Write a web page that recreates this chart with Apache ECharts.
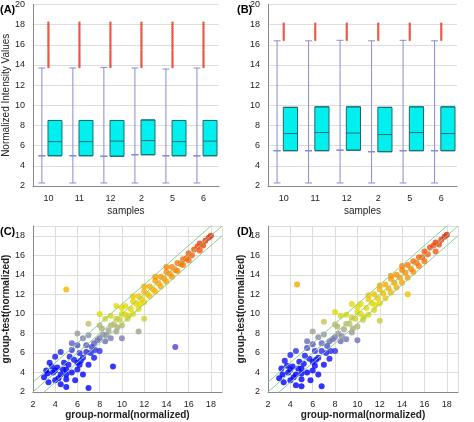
<!DOCTYPE html>
<html><head><meta charset="utf-8">
<script src="https://cdn.jsdelivr.net/npm/echarts@6/dist/echarts.min.js"></script>
<style>html,body{margin:0;padding:0;background:#fff}#c{width:474px;height:422px}</style>
</head><body><div id="c"></div>
<script>
var samples = ['10', '11', '12', '2', '5', '6'];
// [low, q1, median, q3, high]
var boxA = [[2.3, 5.0, 6.4, 8.5, 13.7], [2.3, 5.0, 6.4, 8.5, 13.7], [2.3, 4.95, 6.45, 8.5, 13.75],
	[2.3, 5.1, 6.5, 8.55, 13.7], [2.3, 5.0, 6.4, 8.5, 13.6], [2.3, 5.0, 6.45, 8.5, 13.7]];
var boxB = [[2.3, 5.5, 7.2, 9.8, 16.4], [2.3, 5.5, 7.3, 9.85, 16.4], [2.3, 5.55, 7.25, 9.85, 16.45],
	[2.3, 5.4, 7.1, 9.8, 16.4], [2.3, 5.5, 7.3, 9.85, 16.45], [2.3, 5.5, 7.2, 9.85, 16.4]];
var outA = [13.8, 14.0, 14.2, 14.4, 14.6, 14.8, 15.0, 15.2, 15.4, 15.6, 15.8, 16.0, 16.2, 16.4, 16.6,
	16.8, 17.0, 17.2, 17.4, 17.6, 17.8, 18.0, 18.2];
var outB = [16.5, 16.7, 16.9, 17.1, 17.3, 17.5, 17.7, 17.9, 18.1];
var yTicks = [2, 4, 6, 8, 10, 12, 14, 16, 18, 20];

var scatC = [[3,3.5],[3.2,4.2],[3.4,3],[3.5,5],[3.8,4],[4,3.2],[4,5.6],[4.2,4.5],[4.5,2.8],[4.5,3.8],
	[4.5,6.1],[4.8,5],[5,3.3],[5,4.3],[5,2.5],[5.3,5.6],[5.5,4],[5.5,6.3],[5.8,3.2],[6,5],[6,4.3],[6.2,6],
	[6.5,5.5],[6.5,3.8],[7,2.4],[6.8,6.8],[7,4.8],[7.2,6],[7.5,7],[7.5,5.5],[8,7.5],[8,6.2],[8.2,8.5],
	[8.5,7.2],[9,8.8],[9,7.5],[9.2,4.6],[9.5,9.5],[9.5,8.2],[10,10],[10,8.8],[10.3,10.8],[10.5,9.5],
	[11,11.3],[11,10],[11.5,11.8],[11.5,10.5],[11.5,8.2],[12,12.3],[12,11.2],[12.5,12.8],[12.5,11.8],
	[13,13.4],[13,12.3],[13.5,13.8],[13.5,12.8],[14,14.3],[14,13.3],[14.5,14.8],[14.5,13.8],[15,15.2],
	[15,14.4],[15.5,15.6],[15.5,15],[16,16.2],[16,15.5],[16.5,16.6],[17,17.2],[17,16.5],[17.5,17.5],
	[18,18],[5,12.5],[14.8,6.6],[8,10],[7,9],[6,8],[10,7.5],[12,9.5],[5.5,7],[6.5,7.5],[8.5,9.5],[9.5,10.8],
	[3.3,3.9],[3.7,4.6],[4.3,3.4],[4.7,4.3],[5.2,4.8],[5.7,5.3],[6.3,5.2],[6.8,6.1],[7.3,6.6],[7.8,7.3],
	[8.3,7.9],[8.8,8.3],[9.3,8.9],[9.8,9.4],[10.3,9.9],[10.8,10.5],[11.3,11],[11.8,11.5],[12.3,12],
	[12.8,12.5],[13.3,13.1],[13.8,13.6],[14.3,14.1],[14.8,14.5],[15.3,15.1],[15.8,15.7],[16.3,16],
	[16.8,16.9],[17.3,17],[17.8,17.8],[6,6.8],[7,7.8],[8,8.8],[9,9.8],[10,10.6],[11,11.8],[12,12.8],
	[13,13.8],[14,14.8],[5,3.8],[4,4.2],[6.2,4.8],[7.6,6.3],[8.6,7.8],[9.6,8.6],[10.6,9.8],[11.6,11]];
var scatD = [[3,3.4],[3.2,4.4],[3.4,3],[3.5,5.2],[3.8,4],[4,3.2],[4,5.8],[4.2,4.6],[4.5,2.7],[4.5,3.8],
	[4.5,6.2],[4.8,5.1],[5,3.3],[5,4.4],[5,2.6],[5.3,5.7],[5.5,4],[5.5,6.5],[5.8,3.2],[6,5.1],[6,4.2],
	[6.2,6.2],[6.5,5.5],[6.5,3.8],[6.8,2.6],[6.8,7],[7,4.8],[7.2,6],[7.5,7.2],[7.5,5.4],[8,7.6],[8,6.2],
	[8.2,8.7],[8.5,7.2],[9,9],[9,7.4],[9.5,9.6],[9.5,8.1],[10,10.2],[10,8.7],[10.3,11],[10.5,9.4],
	[11,11.5],[11,9.9],[11.5,12],[11.5,10.4],[12,12.5],[12,11.1],[12.5,13],[12.5,11.6],[13,13.6],
	[13,12.2],[13.5,14],[13.5,12.7],[14,14.5],[14,13.2],[14.5,15],[14.5,13.7],[15,15.4],[15,14.3],
	[15.5,15.8],[15.5,14.9],[16,16.4],[16,15.4],[16.5,16.8],[17,17.3],[17,16.4],[17.5,17.6],[18,18.1],
	[4.6,13],[14.5,12],[8,10.2],[7,9.2],[6,8.2],[10,7.3],[12,9.3],[5.5,7.2],[6.5,7.6],[8.5,9.8],[9.5,11],
	[3.3,3.8],[3.7,4.7],[4.3,3.5],[4.7,4.4],[5.2,4.9],[5.7,5.4],[6.3,5.3],[6.8,6.2],[7.3,6.7],[7.8,7.4],
	[8.3,8],[8.8,8.4],[9.3,9],[9.8,9.5],[10.3,10],[10.8,10.6],[11.3,11.1],[11.8,11.6],[12.3,12.1],
	[12.8,12.6],[13.3,13.2],[13.8,13.7],[14.3,14.2],[14.8,14.6],[15.3,15.2],[15.8,15.8],[16.3,16.1],
	[16.8,17],[17.3,17.1],[17.8,17.9],[6,6.9],[7,7.9],[8,8.9],[9,9.9],[10,10.7],[11,11.9],[12,12.9],
	[13,13.9],[14,14.9],[5,3.9],[4,4.3],[6.2,4.7],[7.6,6.2],[8.6,7.7],[9.6,8.5],[10.6,9.7],[11.6,10.9]];
var diagX = [2, 19];
// colour ramp for y = 2, 3, ... 18
var ramp = ['#0000ff', '#0000ff', '#0000ff', '#0808ff', '#2020f0', '#6060c0', '#9898a0', '#c0c060',
	'#dcdc00', '#e8d800', '#f2c000', '#f8a800', '#ff9000', '#ff7800', '#f86010', '#f04810', '#e03010'];

var myChart = echarts.init(document.getElementById('c'));
var grids = [
	{left: 30, top: 4, width: 189, height: 182},
	{left: 268, top: 4, width: 189, height: 182},
	{left: 30, top: 226, width: 192, height: 166},
	{left: 268, top: 226, width: 190, height: 166}
];
var lab = {color: '#222', fontSize: 9, fontFamily: 'Arial'};
var split = {show: true, lineStyle: {color: '#ddd'}};
var frame = {show: true, lineStyle: {color: '#888'}};

function boxSeries(idx, box, out) {
	return [
		{type: 'boxplot', xAxisIndex: idx, yAxisIndex: idx, boxWidth: ['22%', '22%'],
			itemStyle: {color: 'transparent', borderColor: '#8a8ad0', borderWidth: 1},
			data: box.map(function (b) { return [b[0], b[1], b[1], b[1], b[4]]; })},
		{type: 'boxplot', xAxisIndex: idx, yAxisIndex: idx, boxWidth: ['45%', '45%'], z: 3,
			itemStyle: {color: '#00f0f0', borderColor: '#1f6b6b', borderWidth: 1},
			data: box.map(function (b) { return [b[1], b[1], b[2], b[3], b[3]]; })},
		{type: 'scatter', xAxisIndex: idx, yAxisIndex: idx, symbolSize: 2.5, z: 4,
			itemStyle: {color: '#e8321c'},
			data: [].concat.apply([], samples.map(function (s) { return out.map(function (v) { return [s, v]; }); }))}
	];
}
function catAxis(idx) {
	return {type: 'category', gridIndex: idx, data: samples, name: 'samples', nameLocation: 'middle', nameGap: 20,
		nameTextStyle: {fontSize: 10, color: '#222'}, axisLabel: lab, axisTick: {show: false},
		axisLine: frame, splitLine: {show: false}};
}
function valAxisY(idx, name) {
	return {type: 'value', gridIndex: idx, min: yTicks[0], max: yTicks[yTicks.length - 1], interval: 2,
		name: name, nameLocation: 'middle', nameGap: 18, nameTextStyle: {fontSize: 10, color: '#222'},
		axisLabel: lab, axisTick: {show: false}, axisLine: frame, splitLine: split};
}
function scatAxis(idx, name, isY) {
	return {type: 'value', gridIndex: idx, min: 2, max: 19, interval: 2,
		name: name, nameLocation: 'middle', nameGap: isY ? 16 : 17,
		nameTextStyle: {fontSize: 10, fontWeight: 'bold', color: '#222'},
		axisLabel: Object.assign({}, lab, {showMaxLabel: false}), axisTick: {show: false}, axisLine: frame, splitLine: split};
}
function scatSeries(idx, pts) {
	return [
		{type: 'line', xAxisIndex: idx, yAxisIndex: idx, symbol: 'none', silent: true, z: 3,
			lineStyle: {color: '#8ccf8c', width: 1}, data: diagX.map(function (x) { return [x, x + 1]; })},
		{type: 'line', xAxisIndex: idx, yAxisIndex: idx, symbol: 'none', silent: true, z: 3,
			lineStyle: {color: '#8ccf8c', width: 1}, data: diagX.map(function (x) { return [x, x]; })},
		{type: 'line', xAxisIndex: idx, yAxisIndex: idx, symbol: 'none', silent: true, z: 3,
			lineStyle: {color: '#8ccf8c', width: 1}, data: diagX.map(function (x) { return [x, x - 1]; })},
		{type: 'scatter', xAxisIndex: idx, yAxisIndex: idx, symbolSize: 6, z: 1, data: pts}
	];
}
option = {
	animation: false,
	grid: grids,
	xAxis: [catAxis(0), catAxis(1), scatAxis(2, 'group-normal(normalized)'), scatAxis(3, 'group-normal(normalized)')],
	yAxis: [valAxisY(0, 'Normalized Intensity Values'), valAxisY(1, ''),
		scatAxis(2, 'group-test(normalized)', true), scatAxis(3, 'group-test(normalized)', true)],
	visualMap: {show: false, type: 'continuous', seriesIndex: [9, 13], dimension: 1, min: 2, max: 18,
		inRange: {color: ramp}},
	graphic: [
		{type: 'text', left: 0, top: 4, style: {text: '(A)', font: 'bold 11px Arial', fill: '#000'}},
		{type: 'text', left: 237, top: 4, style: {text: '(B)', font: 'bold 11px Arial', fill: '#000'}},
		{type: 'text', left: 0, top: 226, style: {text: '(C)', font: 'bold 11px Arial', fill: '#000'}},
		{type: 'text', left: 237, top: 226, style: {text: '(D)', font: 'bold 11px Arial', fill: '#000'}}
	],
	series: [].concat(boxSeries(0, boxA, outA), boxSeries(1, boxB, outB), scatSeries(2, scatC), scatSeries(3, scatD))
};
myChart.setOption(option);
</script>
</body></html>
